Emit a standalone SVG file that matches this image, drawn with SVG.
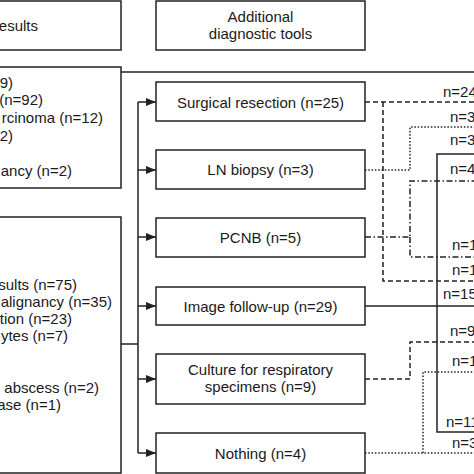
<svg xmlns="http://www.w3.org/2000/svg" width="474" height="474" viewBox="0 0 474 474">
<style>
.box{fill:#fff;stroke:#222;stroke-width:1.5}
.t{font-family:"Liberation Sans",Arial,sans-serif;font-size:15px;fill:#1a1a1a}
.m{text-anchor:middle}
.e{text-anchor:end}
.ln{fill:none;stroke:#222;stroke-width:1.5}
.dash{stroke-dasharray:5 3}
.dot{stroke-dasharray:1.5 1.8}
.dd{stroke-dasharray:6 2.5 1.5 2.5}
</style>
<defs>
<marker id="ah" markerWidth="10" markerHeight="8" refX="10" refY="4" orient="auto" markerUnits="userSpaceOnUse">
<path d="M0,0 L10,4 L0,8 Z" fill="#222"/>
</marker>
</defs>
<rect width="474" height="474" fill="#fff"/>

<g id="connectors">
<path class="ln" d="M121,72 H474"/>
<path class="ln" d="M121,344 H138"/>
<path class="ln" d="M138,102 V453"/>
<path class="ln" d="M138,102 H156" marker-end="url(#ah)"/>
<path class="ln" d="M138,170 H156" marker-end="url(#ah)"/>
<path class="ln" d="M138,237 H156" marker-end="url(#ah)"/>
<path class="ln" d="M138,306 H156" marker-end="url(#ah)"/>
<path class="ln" d="M138,379 H156" marker-end="url(#ah)"/>
<path class="ln" d="M138,453 H156" marker-end="url(#ah)"/>
<!-- solid bracket -->
<path class="ln" d="M474,154 H437 V432 H474"/>
<!-- surgical dashed -->
<path class="ln dash" d="M365,102 H474"/>
<path class="ln dash" d="M383,102 V281 H474"/>
<!-- LN dotted -->
<path class="ln dot" d="M365,170 H410 V127 H474"/>
<!-- PCNB dash-dot -->
<path class="ln dd" d="M365,237 H410 V181 H474"/>
<path class="ln dd" d="M410,237 V257 H474"/>
<!-- image follow-up solid -->
<path class="ln" d="M365,306 H474"/>
<!-- culture dashed -->
<path class="ln dash" d="M365,379 H410 V342 H474"/>
<!-- nothing dotted -->
<path class="ln dot" d="M365,453 H474"/>
<path class="ln dot" d="M423,453 V372 H474"/>
<g class="t">
<text x="443" y="97">n=24</text>
<text x="450" y="122">n=3</text>
<text x="450" y="145">n=3</text>
<text x="450" y="174">n=4</text>
<text x="452" y="250">n=1</text>
<text x="452" y="275">n=1</text>
<text x="443" y="299">n=15</text>
<text x="450" y="336">n=9</text>
<text x="452" y="366">n=1</text>
<text x="446" y="427">n=11</text>
<text x="452" y="448">n=3</text>
</g>
</g>

<g id="left-header">
<rect class="box" x="-5" y="1" width="126" height="49"/>
<text class="t e" x="38" y="30.5">esults</text>
</g>
<g id="left-box-1">
<rect class="box" x="-5" y="67" width="126" height="121"/>
<text class="t e" x="13" y="87.5">9)</text>
<text class="t e" x="43" y="105">(n=92)</text>
<text class="t e" x="103" y="123">rcinoma (n=12)</text>
<text class="t e" x="13" y="140.5">2)</text>
<text class="t e" x="72" y="175.5">ancy (n=2)</text>
</g>
<g id="left-box-2">
<rect class="box" x="-5" y="217" width="126" height="256"/>
<text class="t e" x="77" y="289.5">sults (n=75)</text>
<text class="t e" x="112" y="306.5">alignancy (n=35)</text>
<text class="t e" x="72" y="323.5">tion (n=23)</text>
<text class="t e" x="68" y="341">ytes (n=7)</text>
<text class="t e" x="99" y="392.5">abscess (n=2)</text>
<text class="t e" x="61" y="409.5">ase (n=1)</text>
</g>

<g id="header-tools">
<rect class="box" x="156" y="1" width="209" height="49"/>
<text class="t m" x="260.5" y="21.5">Additional</text>
<text class="t m" x="260.5" y="38.5">diagnostic tools</text>
</g>
<g id="surgical">
<rect class="box" x="156" y="82" width="209" height="39"/>
<text class="t m" x="260.5" y="107.5">Surgical resection (n=25)</text>
</g>
<g id="ln-biopsy">
<rect class="box" x="156" y="150" width="209" height="39"/>
<text class="t m" x="260.5" y="175">LN biopsy (n=3)</text>
</g>
<g id="pcnb">
<rect class="box" x="156" y="218" width="209" height="39"/>
<text class="t m" x="260.5" y="242.5">PCNB (n=5)</text>
</g>
<g id="image-follow-up">
<rect class="box" x="156" y="287" width="209" height="38"/>
<text class="t m" x="260.5" y="311.5">Image follow-up (n=29)</text>
</g>
<g id="culture">
<rect class="box" x="156" y="354" width="209" height="50"/>
<text class="t m" x="260.5" y="375">Culture for respiratory</text>
<text class="t m" x="260.5" y="392">specimens (n=9)</text>
</g>
<g id="nothing">
<rect class="box" x="156" y="433" width="209" height="40"/>
<text class="t m" x="260.5" y="458.5">Nothing (n=4)</text>
</g>
</svg>
